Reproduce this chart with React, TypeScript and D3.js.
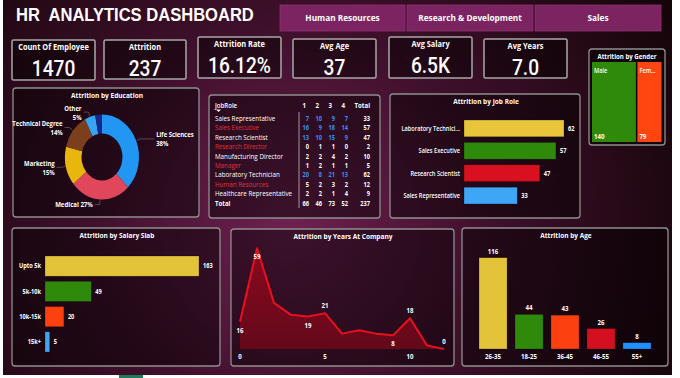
import React from "react";
import * as d3 from "d3";

const W = 680;
const H = 378;
const SX = 0.87;
const FONT = "'Open Sans', 'Noto Sans', sans-serif";
const NUMFONT = "Roboto, 'Open Sans', sans-serif";
const TITLEFONT = "'Liberation Sans', Arial, sans-serif";

const dashboardTitle = "HR  ANALYTICS DASHBOARD";
const tabLabels = ["Human Resources", "Research & Development", "Sales"];
const kpiTitles = ["Count Of Employee", "Attrition", "Attrition Rate", "Avg Age", "Avg Salary", "Avg Years"];
const kpiValues = ["1470", "237", "16.12%", "37", "6.5K", "7.0"];

const eduFields = ["Life Sciences", "Medical", "Marketing", "Technical Degree", "Other", "Human Resources"];
const eduValues = [89, 63, 35, 32, 11, 7];
const eduColors = ["#2196f3", "#e0475b", "#e8b70e", "#7b3f1d", "#36a3f5", "#14288a"];

const matrixRoles = [
  "Sales Representative",
  "Sales Executive",
  "Research Scientist",
  "Research Director",
  "Manufacturing Director",
  "Manager",
  "Laboratory Technician",
  "Human Resources",
  "Healthcare Representative",
];
const matrixLevels = ["1", "2", "3", "4"];
const matrixValues = [
  [7, 10, 9, 7],
  [16, 9, 18, 14],
  [13, 10, 15, 9],
  [0, 1, 1, 0],
  [2, 2, 4, 2],
  [1, 2, 1, 1],
  [20, 8, 21, 13],
  [5, 2, 3, 2],
  [2, 2, 1, 4],
];

const jobRoles = ["Laboratory Technici...", "Sales Executive", "Research Scientist", "Sales Representative"];
const jobRoleValues = [62, 57, 47, 33];
const jobRoleColors = ["#e8c53a", "#2f8a0b", "#d8101f", "#3ea6f5"];

const salarySlabs = ["Upto 5k", "5k-10k", "10k-15k", "15k+"];
const salaryValues = [163, 49, 20, 5];
const salaryColors = ["#e3c33a", "#2f8a0b", "#fc4010", "#3ea6f5"];

const yearsAtCompany = [0, 1, 2, 3, 4, 5, 6, 7, 8, 9, 10, 11, 12];
const yearsAttrition = [16, 59, 27, 20, 19, 21, 9, 11, 9, 8, 18, 2, 0];
const yearsLabelled = [0, 1, 4, 5, 9, 10, 12];
const yearsLabelAbove = [false, false, false, true, false, true, true];
const yearTicks = [0, 5, 10];

const ageGroups = ["26-35", "18-25", "36-45", "46-55", "55+"];
const ageValues = [116, 44, 43, 26, 8];
const ageColors = ["#e3c33a", "#2f8a0b", "#fc4010", "#d40f20", "#1e90ff"];

const genders = ["Male", "Fem..."];
const genderValues = [140, 79];
const genderColors = ["#2f8a0b", "#ff4510"];

function T({ x, y, children, size = 7, weight = 700, fill = "#ffffff", anchor = "start", family = FONT, sx = SX }: any) {
  return (
    <text
      transform={`translate(${x},${y}) scale(${sx},1)`}
      fontSize={size}
      fontWeight={weight}
      fill={fill}
      textAnchor={anchor}
      fontFamily={family}
      style={{ whiteSpace: "pre" }}
    >
      {children}
    </text>
  );
}

function Panel({ x, y, w, h, title, tx }: any) {
  return (
    <g>
      <rect x={x} y={y} width={w} height={h} rx={3} fill="#000" fillOpacity={0.45} stroke="#8e8e8e" strokeWidth={1.3} />
      {title && <T x={tx ?? x + w / 2} y={y + 9.5} size={7.5} anchor="middle">{title}</T>}
    </g>
  );
}

export default function App() {
  const kpiBoxes = [
    { x: 12, y: 40, w: 83, h: 40 },
    { x: 104, y: 40, w: 82, h: 39 },
    { x: 198, y: 37, w: 83, h: 41 },
    { x: 293, y: 39, w: 83, h: 39 },
    { x: 389, y: 37, w: 83, h: 41 },
    { x: 484, y: 39, w: 83, h: 39 },
  ];
  const tabBoxes = [
    { x: 280, w: 125 },
    { x: 407, w: 126 },
    { x: 535, w: 126 },
  ];

  // Education donut
  const cx = 102, cy = 157, R = 42.5, r0 = 23.5;
  const pie = d3.pie<number>().sort(null).value((d) => d)(eduValues);
  const arc = d3.arc<any>().innerRadius(r0).outerRadius(R);
  const eduTotal = d3.sum(eduValues);

  // Job role bars
  const jrX = d3.scaleLinear().domain([0, 62]).range([464, 564]);
  const jrY = d3.scaleBand<string>().domain(jobRoles).range([120, 204]).paddingInner(0.25);

  // Salary bars
  const slX = d3.scaleLinear().domain([0, 163]).range([45, 199]);
  const slY = d3.scaleBand<string>().domain(salarySlabs).range([256, 352]).paddingInner(0.2);

  // Years area
  const yX = d3.scaleLinear().domain([0, 12]).range([240, 444]);
  const yY = d3.scaleLinear().domain([0, 59]).range([349, 248.3]);
  const area = d3
    .area<number>()
    .x((_, i) => yX(yearsAtCompany[i]))
    .y0(yY(0))
    .y1((d) => yY(d));
  const line = d3
    .line<number>()
    .x((_, i) => yX(yearsAtCompany[i]))
    .y((d) => yY(d));

  // Age bars
  const aX = d3.scaleBand<string>().domain(ageGroups).range([479, 651]).paddingInner(0.22);
  const aY = d3.scaleLinear().domain([0, 116]).range([349, 257.7]);

  // Gender treemap
  const gX = d3.scaleLinear().domain([0, d3.sum(genderValues)]).range([592, 663]);
  const gCum = genderValues.map((_, i) => d3.sum(genderValues.slice(0, i)));

  // Matrix
  const colRight = [309, 322, 335, 348];
  const rowY = (i: number) => 121 + i * 9.4;
  const colTotals = matrixLevels.map((_, j) => d3.sum(matrixValues, (r) => r[j]));
  const grand = d3.sum(colTotals);

  return (
    <svg width={W} height={H} style={{ position: "absolute", left: 0, top: 0, background: "#fff" }}>
      <defs>
        <radialGradient id="bg" cx="290" cy="225" r="430" gradientUnits="userSpaceOnUse">
          <stop offset="0" stopColor="#6e2150" />
          <stop offset="0.45" stopColor="#40102c" />
          <stop offset="1" stopColor="#150509" />
        </radialGradient>
        <linearGradient id="areaFill" x1="0" y1="0" x2="0" y2="1">
          <stop offset="0" stopColor="#8a0a20" />
          <stop offset="1" stopColor="#64081a" />
        </linearGradient>
      </defs>
      <rect x={0} y={0} width={W} height={H} fill="#ffffff" />
      <rect x={3} y={0} width={669} height={375} fill="url(#bg)" />
      <rect x={119} y={375} width={24} height={3} fill="#1f7a5e" />

      {/* Title */}
      <T x={16} y={21} size={18} weight={700} family={TITLEFONT} sx={0.92}>{dashboardTitle}</T>

      {/* Tabs */}
      {tabLabels.map((t, i) => (
        <g key={t}>
          <rect x={tabBoxes[i].x} y={5} width={tabBoxes[i].w} height={26} fill="#7c2462" stroke="#8e3272" strokeWidth={0.8} />
          <T x={tabBoxes[i].x + tabBoxes[i].w / 2} y={21} size={9.5} anchor="middle">{t}</T>
        </g>
      ))}

      {/* KPI cards */}
      {kpiTitles.map((t, i) => {
        const b = kpiBoxes[i];
        return (
          <g key={t}>
            <rect x={b.x} y={b.y} width={b.w} height={b.h} rx={1.5} fill="#000" fillOpacity={0.45} stroke="#a8a8a8" strokeWidth={1.5} />
            <T x={b.x + b.w / 2} y={b.y + 9.8} size={8.5} anchor="middle">{t}</T>
            <T x={b.x + b.w / 2} y={b.y + 35.5} size={22} weight={500} anchor="middle" family={NUMFONT}>{kpiValues[i]}</T>
          </g>
        );
      })}

      {/* Gender */}
      <Panel x={589} y={49} w={76} h={96} />
      <T x={627} y={58.5} size={7} anchor="middle">Attrition by Gender</T>
      {genders.map((g, i) => {
        const x0 = gX(gCum[i]);
        const x1 = gX(gCum[i] + genderValues[i]);
        return (
          <g key={g}>
            <rect x={x0} y={62} width={x1 - x0 - 1.5} height={80} fill={genderColors[i]} />
            <T x={x0 + 2} y={73} size={6.5} weight={600}>{g}</T>
            <T x={x0 + 2} y={139} size={7} weight={700}>{genderValues[i]}</T>
          </g>
        );
      })}

      {/* Education donut */}
      <Panel x={13} y={88} w={186} h={129} title="Attrition by Education" tx={107} />
      <g transform={`translate(${cx},${cy}) scale(${SX},1)`}>
        {pie.map((p, i) => (
          <path key={eduFields[i]} d={arc(p) as string} fill={eduColors[i]} />
        ))}
      </g>
      {pie.map((p, i) => {
        const pct = Math.round((eduValues[i] / eduTotal) * 100);
        if (pct < 4) return null;
        const a = (p.startAngle + p.endAngle) / 2;
        const s = Math.sin(a), c = Math.cos(a);
        const right = s >= 0;
        const bottom = c < -0.95;
        const p0 = [cx + SX * (R + 1) * s, cy - (R + 1) * c];
        const p1 = [cx + SX * (R + 5) * s, cy - (R + 5) * c];
        const p2 = [p1[0] + (right ? 14 : -5), p1[1]];
        const tx = p2[0] + (right ? 2 : -2);
        return (
          <g key={eduFields[i]}>
            <polyline points={`${p0[0]},${p0[1]} ${p1[0]},${p1[1]} ${p2[0]},${p2[1]}`} fill="none" stroke="#777" strokeWidth={0.6} />
            {bottom ? (
              <T x={tx} y={p2[1] + 2.5} size={7} anchor={right ? "start" : "end"}>{`${eduFields[i]} ${pct}%`}</T>
            ) : (
              <>
                <T x={tx} y={p2[1] - 1.5} size={6.8} anchor={right ? "start" : "end"}>{eduFields[i]}</T>
                <T x={tx} y={p2[1] + 7.5} size={6.8} anchor={right ? "start" : "end"}>{`${pct}%`}</T>
              </>
            )}
          </g>
        );
      })}

      {/* Matrix */}
      <Panel x={209} y={95} w={171} h={123} />
      <T x={215} y={107.5} size={7} weight={600}>JobRole</T>
      <path d="M216,109.5 L221,109.5 L218.5,112 Z" fill="#fff" />
      {matrixLevels.map((l, j) => (
        <T key={l} x={colRight[j] - 3} y={107.5} size={7} weight={700} anchor="end">{l}</T>
      ))}
      <T x={370} y={107.5} size={7} weight={700} anchor="end">Total</T>
      <line x1={299} x2={299} y1={112} y2={208} stroke="#bbbbbb" strokeWidth={0.8} />
      {matrixRoles.map((role, i) => (
        <g key={role}>
          <T x={215} y={rowY(i)} size={7.2} weight={400} fill={i % 2 === 1 ? "#e0303f" : "#ffffff"}>{role}</T>
          {matrixValues[i].map((v, j) => (
            <T key={j} x={colRight[j]} y={rowY(i)} size={6.5} weight={700} anchor="end" fill={v >= 7 ? "#3a8ef0" : "#ffffff"}>{v}</T>
          ))}
          <T x={370} y={rowY(i)} size={6.5} weight={700} anchor="end">{d3.sum(matrixValues[i])}</T>
        </g>
      ))}
      <T x={215} y={rowY(9)} size={7} weight={700}>Total</T>
      {colTotals.map((v, j) => (
        <T key={j} x={colRight[j]} y={rowY(9)} size={6.5} weight={700} anchor="end">{v}</T>
      ))}
      <T x={370} y={rowY(9)} size={6.5} weight={700} anchor="end">{grand}</T>

      {/* Job role bars */}
      <Panel x={390} y={94} w={190} h={124} title="Attrition by Job Role" tx={486} />
      {jobRoles.map((j, i) => {
        const y = jrY(j)!;
        const bw = jrY.bandwidth();
        return (
          <g key={j}>
            <rect x={jrX(0)} y={y} width={jrX(jobRoleValues[i]) - jrX(0)} height={bw} fill={jobRoleColors[i]} stroke="#000" strokeOpacity={0.4} strokeWidth={0.6} />
            <T x={460} y={y + bw / 2 + 2.3} size={6.5} weight={600} anchor="end">{j}</T>
            <T x={jrX(jobRoleValues[i]) + 4} y={y + bw / 2 + 2.3} size={6.5} weight={700}>{jobRoleValues[i]}</T>
          </g>
        );
      })}

      {/* Salary slab */}
      <Panel x={12} y={228} w={208} h={138} title="Attrition by Salary Slab" tx={117} />
      {salarySlabs.map((s, i) => {
        const y = slY(s)!;
        const bw = slY.bandwidth();
        return (
          <g key={s}>
            <rect x={slX(0)} y={y} width={slX(salaryValues[i]) - slX(0)} height={bw} fill={salaryColors[i]} stroke="#000" strokeOpacity={0.4} strokeWidth={0.6} />
            <T x={41} y={y + bw / 2 + 2.3} size={6.5} weight={700} anchor="end">{s}</T>
            <T x={slX(salaryValues[i]) + 4} y={y + bw / 2 + 2.3} size={6.5} weight={700}>{salaryValues[i]}</T>
          </g>
        );
      })}

      {/* Years at company */}
      <Panel x={231} y={229} w={223} h={137} title="Attrition by Years At Company" tx={343} />
      <path d={area(yearsAttrition) as string} fill="url(#areaFill)" />
      <path d={line(yearsAttrition) as string} fill="none" stroke="#e8101e" strokeWidth={2} strokeLinejoin="round" />
      {yearsLabelled.map((idx, k) => (
        <T key={idx} x={yX(yearsAtCompany[idx])} y={yY(yearsAttrition[idx]) + (yearsLabelAbove[k] ? -5 : 11)} size={7} weight={700} anchor="middle">
          {yearsAttrition[idx]}
        </T>
      ))}
      {yearTicks.map((t) => (
        <T key={t} x={yX(t)} y={358.5} size={7} weight={700} anchor="middle">{t}</T>
      ))}

      {/* Age */}
      <Panel x={462} y={228} w={206} h={138} title="Attrition by Age" tx={566} />
      {ageGroups.map((g, i) => {
        const x = aX(g)!;
        const bw = aX.bandwidth();
        return (
          <g key={g}>
            <rect x={x} y={aY(ageValues[i])} width={bw} height={aY(0) - aY(ageValues[i])} fill={ageColors[i]} stroke="#000" strokeOpacity={0.4} strokeWidth={0.6} />
            <T x={x + bw / 2} y={aY(ageValues[i]) - 4} size={7} weight={700} anchor="middle">{ageValues[i]}</T>
            <T x={x + bw / 2} y={358.5} size={7} weight={700} anchor="middle">{g}</T>
          </g>
        );
      })}
    </svg>
  );
}
